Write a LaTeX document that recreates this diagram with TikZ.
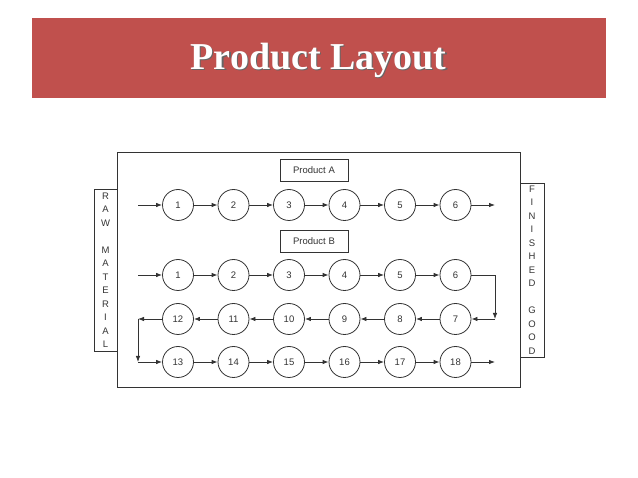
\documentclass[tikz,border=0pt]{standalone}
\usepackage{fontspec}
\setmainfont{Liberation Serif}
\setsansfont{Liberation Sans}
\usetikzlibrary{arrows.meta}
\definecolor{barred}{HTML}{C0504D}
\definecolor{ink}{HTML}{333333}
\tikzset{
  st/.style={circle,draw=ink,line width=0.8pt,minimum size=31pt,inner sep=0pt,font=\sffamily\fontsize{9.5}{9.5}\selectfont,text=ink},
  lbl/.style={draw=ink,line width=0.8pt,minimum width=68pt,minimum height=22pt,inner sep=0pt,font=\sffamily\fontsize{9.5}{9.5}\selectfont,text=ink},
  flow/.style={draw=ink,line width=0.8pt,-{Latex[length=6pt,width=4.5pt]}},
  plain/.style={draw=ink,line width=0.8pt},
  side/.style={inner sep=0pt,font=\sffamily\fontsize{9.5}{13.5}\selectfont,text=ink,align=center}
}
\begin{document}
\begin{tikzpicture}[x=1pt,y=-1pt]
\useasboundingbox (0,0) rectangle (638,478);
% header
\fill[barred] (32,18) rectangle (606,98);
\node[font=\fontsize{38}{38}\selectfont\bfseries,text=black!60] (titleshadow) at (319.8,61.8) {Product Layout};
\node[font=\fontsize{38}{38}\selectfont\bfseries,text=white] (title) at (318.5,60.5) {Product Layout};
% frames
\draw[plain] (117,152) rectangle (520,387);
\draw[plain] (94,189) rectangle (117,351);
\draw[plain] (520,183) rectangle (544,357);
\node[side] (raw) at (105.5,270) {R\\A\\W\\~\\M\\A\\T\\E\\R\\I\\A\\L};
\node[side] (fin) at (532,270) {F\\I\\N\\I\\S\\H\\E\\D\\~\\G\\O\\O\\D};
% labels
\node[lbl] (pa) at (314,170) {Product A};
\node[lbl] (pb) at (314,241.5) {Product B};
% row 1
\foreach \i in {1,...,6} {
  \node[st] (a\i) at ({178+55.5*(\i-1)},205) {\i};
}
% row 2
\foreach \i in {1,...,6} {
  \node[st] (b\i) at ({178+55.5*(\i-1)},275) {\i};
}
% row 3 (7 at right ... 12 at left)
\foreach \i in {7,...,12} {
  \node[st] (b\i) at ({178+55.5*(12-\i)},319) {\i};
}
% row 4
\foreach \i in {13,...,18} {
  \node[st] (b\i) at ({178+55.5*(\i-13)},362) {\i};
}
\coordinate (a0) at (138,205);
\coordinate (aend) at (495,205);
\coordinate (b0) at (138,275);
\coordinate (r2e) at (495,275);
\coordinate (r3e) at (495,319);
\coordinate (r3s) at (138,319);
\coordinate (r4s) at (138,362);
\coordinate (r4e) at (495,362);
% connectors row 1
\draw[flow] (a0) -- (a1);
\draw[flow] (a1) -- (a2);
\draw[flow] (a2) -- (a3);
\draw[flow] (a3) -- (a4);
\draw[flow] (a4) -- (a5);
\draw[flow] (a5) -- (a6);
\draw[flow] (a6) -- (aend);
% row 2
\draw[flow] (b0) -- (b1);
\draw[flow] (b1) -- (b2);
\draw[flow] (b2) -- (b3);
\draw[flow] (b3) -- (b4);
\draw[flow] (b4) -- (b5);
\draw[flow] (b5) -- (b6);
\draw[flow] (b6) -- (r2e) -- (r3e);
% row 3
\draw[flow] (r3e) -- (b7);
\draw[flow] (b7) -- (b8);
\draw[flow] (b8) -- (b9);
\draw[flow] (b9) -- (b10);
\draw[flow] (b10) -- (b11);
\draw[flow] (b11) -- (b12);
\draw[flow] (b12) -- (r3s);
\draw[flow] (r3s) -- (r4s);
% row 4
\draw[flow] (r4s) -- (b13);
\draw[flow] (b13) -- (b14);
\draw[flow] (b14) -- (b15);
\draw[flow] (b15) -- (b16);
\draw[flow] (b16) -- (b17);
\draw[flow] (b17) -- (b18);
\draw[flow] (b18) -- (r4e);
\end{tikzpicture}
\end{document}
